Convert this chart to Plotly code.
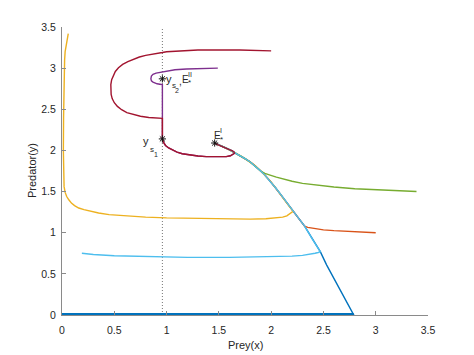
import plotly.graph_objects as go

# ---------------- data ----------------
# slow manifold shared by trajectories, from boundary equilibrium up to E*^I
manifold_x = [2.79, 2.73, 2.67, 2.60, 2.53, 2.47, 2.40, 2.32, 2.26, 2.21, 2.15, 2.10, 2.04, 1.99, 1.94, 1.90, 1.85, 1.80, 1.75, 1.70, 1.65, 1.60, 1.55, 1.50, 1.46]
manifold_y = [0.00, 0.14, 0.29, 0.45, 0.61, 0.77, 0.91, 1.08, 1.18, 1.26, 1.36, 1.45, 1.55, 1.63, 1.70, 1.75, 1.81, 1.86, 1.90, 1.94, 1.975, 2.01, 2.04, 2.065, 2.09]

blue_x = [0.00, 0.5, 1.0, 1.5, 2.0, 2.5, 2.79]
blue_y = [0.01, 0.01, 0.01, 0.01, 0.01, 0.01, 0.01]

orange_x = [3.00, 2.80, 2.60, 2.50, 2.43, 2.38, 2.35, 2.32]
orange_y = [1.00, 1.01, 1.025, 1.035, 1.045, 1.055, 1.065, 1.08]

yellow_x = [0.06, 0.05, 0.04, 0.03, 0.025, 0.018, 0.015, 0.013, 0.013, 0.015, 0.02, 0.03, 0.045, 0.065, 0.09, 0.12, 0.16, 0.21, 0.27, 0.35, 0.45, 0.60, 0.80, 1.00, 1.40, 1.80, 1.95, 2.05, 2.11, 2.15, 2.18, 2.21]
yellow_y = [3.42, 3.36, 3.30, 3.20, 3.10, 2.80, 2.40, 2.00, 1.80, 1.65, 1.56, 1.49, 1.44, 1.40, 1.36, 1.33, 1.30, 1.28, 1.26, 1.24, 1.22, 1.205, 1.19, 1.18, 1.17, 1.165, 1.17, 1.18, 1.19, 1.205, 1.23, 1.26]

green_x = [3.39, 3.00, 2.80, 2.60, 2.45, 2.30, 2.20, 2.12, 2.05, 1.99, 1.94, 1.90]
green_y = [1.50, 1.52, 1.535, 1.555, 1.575, 1.60, 1.625, 1.65, 1.675, 1.70, 1.72, 1.75]

cyan_x = [0.19, 0.30, 0.50, 0.80, 1.20, 1.60, 2.00, 2.20, 2.30, 2.37, 2.42, 2.45, 2.47]
cyan_y = [0.75, 0.735, 0.72, 0.71, 0.70, 0.70, 0.705, 0.715, 0.725, 0.735, 0.75, 0.76, 0.77]

# lower loop from y_s1 into E*^I
loop_x = [0.96, 0.97, 0.99, 1.02, 1.06, 1.10, 1.15, 1.22, 1.30, 1.38, 1.45, 1.52, 1.57, 1.61, 1.635, 1.65, 1.645, 1.63, 1.60, 1.56, 1.52, 1.49, 1.46]
loop_y = [2.14, 2.10, 2.06, 2.03, 2.00, 1.98, 1.96, 1.945, 1.932, 1.925, 1.922, 1.922, 1.925, 1.935, 1.948, 1.965, 1.98, 1.995, 2.01, 2.03, 2.05, 2.07, 2.09]

purple_x = [1.49, 1.30, 1.19, 1.08, 1.00, 0.94, 0.90, 0.87, 0.855, 0.85, 0.855, 0.87, 0.89, 0.91, 0.935, 0.96, 0.96, 0.96]
purple_y = [3.00, 2.995, 2.99, 2.98, 2.965, 2.955, 2.94, 2.925, 2.905, 2.87, 2.845, 2.83, 2.818, 2.81, 2.805, 2.80, 2.50, 2.20]

red_x = [2.00, 1.70, 1.30, 1.10, 1.00, 0.96, 0.88, 0.80, 0.74, 0.68, 0.63, 0.58, 0.54, 0.51, 0.49, 0.475, 0.467, 0.465, 0.47, 0.48, 0.50, 0.53, 0.57, 0.62, 0.68, 0.75, 0.83, 0.90, 0.96, 0.96, 0.96]
red_y = [3.21, 3.22, 3.22, 3.21, 3.20, 3.19, 3.175, 3.155, 3.135, 3.11, 3.08, 3.045, 3.005, 2.96, 2.91, 2.86, 2.80, 2.74, 2.68, 2.63, 2.58, 2.535, 2.495, 2.46, 2.435, 2.415, 2.40, 2.395, 2.39, 2.30, 2.20]

threshold_x = 0.96
points_x = [0.96, 0.96, 1.46]
points_y = [2.14, 2.87, 2.09]

x_ticks = [0, 0.5, 1, 1.5, 2, 2.5, 3, 3.5]
y_ticks = [0, 0.5, 1, 1.5, 2, 2.5, 3, 3.5]

# ---------------- figure ----------------
LW = 1.4
fig = go.Figure()

def line(x, y, color, width=LW):
    fig.add_trace(go.Scatter(x=x, y=y, mode="lines", line=dict(color=color, width=width, shape="linear"),
                             hoverinfo="skip", showlegend=False))

fig.add_trace(go.Scatter(x=[threshold_x, threshold_x], y=[0, 3.5], mode="lines",
                         line=dict(color="#666666", width=0.9, dash="1px,2px"), showlegend=False, hoverinfo="skip"))

line(blue_x + manifold_x[1:], blue_y[:-1] + [0.0] + manifold_y[1:], "#0072BD", 1.4)
line(blue_x, blue_y, "#0072BD", 2.2)
line(orange_x + manifold_x[7:], orange_y + manifold_y[7:], "#D95319")
line(yellow_x + manifold_x[9:], yellow_y + manifold_y[9:], "#EDB120")
line(purple_x + loop_x, purple_y + loop_y, "#7E2F8E")
line(green_x + manifold_x[15:], green_y + manifold_y[15:], "#77AC30")
line(cyan_x + manifold_x[5:], cyan_y + manifold_y[5:], "#4DBEEE")
line(red_x + loop_x, red_y + loop_y, "#A2142F")

fig.add_trace(go.Scatter(x=points_x, y=points_y, mode="markers",
                         marker=dict(symbol="asterisk-open", size=6, color="#111111", line=dict(color="#111111", width=1)),
                         showlegend=False, hoverinfo="skip"))

FONT = "Liberation Sans, Arial, sans-serif"
TXT = "#262626"
ann = []

def lab(px, py, text, dx, dy, size):
    ann.append(dict(x=px, y=py, xref="x", yref="y", text=text, showarrow=False,
                    xshift=dx, yshift=-dy, xanchor="center", yanchor="middle",
                    font=dict(family=FONT, size=size, color=TXT)))

# y_s1
lab(points_x[0], points_y[0], "y", -16, 2, 11)
lab(points_x[0], points_y[0], "s", -10, 11, 8)
lab(points_x[0], points_y[0], "1", -6.5, 16, 7)
# y_s2, E*^II
lab(points_x[1], points_y[1], "y", 6.5, 0, 11)
lab(points_x[1], points_y[1], "s", 11.5, 7, 8)
lab(points_x[1], points_y[1], "2", 14.5, 11.5, 7)
lab(points_x[1], points_y[1], ",", 18, 3, 10)
lab(points_x[1], points_y[1], "E", 23, 1, 10)
lab(points_x[1], points_y[1], "II", 28, -4, 7)
lab(points_x[1], points_y[1], "*", 27.5, 4, 8)
# E*^I
lab(points_x[2], points_y[2], "E", 2.5, -8, 10)
lab(points_x[2], points_y[2], "I", 6.5, -12.5, 7)
lab(points_x[2], points_y[2], "*", 6.5, -3.5, 8)

# axis titles
ann.append(dict(x=0.5, y=0, xref="paper", yref="paper", text="Prey(x)", showarrow=False,
                yshift=-30, yanchor="middle", font=dict(family=FONT, size=11, color=TXT)))
ann.append(dict(x=0, y=0.5, xref="paper", yref="paper", text="Predator(y)", showarrow=False,
                xshift=-30, xanchor="center", textangle=-90, font=dict(family=FONT, size=11, color=TXT)))

axis_common = dict(showgrid=False, zeroline=False, showline=True, linecolor="#8a8a8a", linewidth=1,
                   ticks="inside", ticklen=4, tickcolor="#8a8a8a", tickwidth=1,
                   tickfont=dict(family=FONT, size=10.5, color=TXT), range=[0, 3.5])

fig.update_layout(
    width=474, height=355,
    margin=dict(l=62, r=46, t=27, b=40),
    paper_bgcolor="white", plot_bgcolor="white",
    annotations=ann,
    xaxis=dict(**axis_common, tickvals=x_ticks, ticktext=[f"{v:g}" for v in x_ticks], ticklabelstandoff=5),
    yaxis=dict(**axis_common, tickvals=y_ticks, ticktext=[f"{v:g}" for v in y_ticks], ticklabelstandoff=3),
)

fig.write_html("out.html", config={"displayModeBar": False},
               post_script="document.body.style.margin='0px';document.body.style.overflow='hidden';")
